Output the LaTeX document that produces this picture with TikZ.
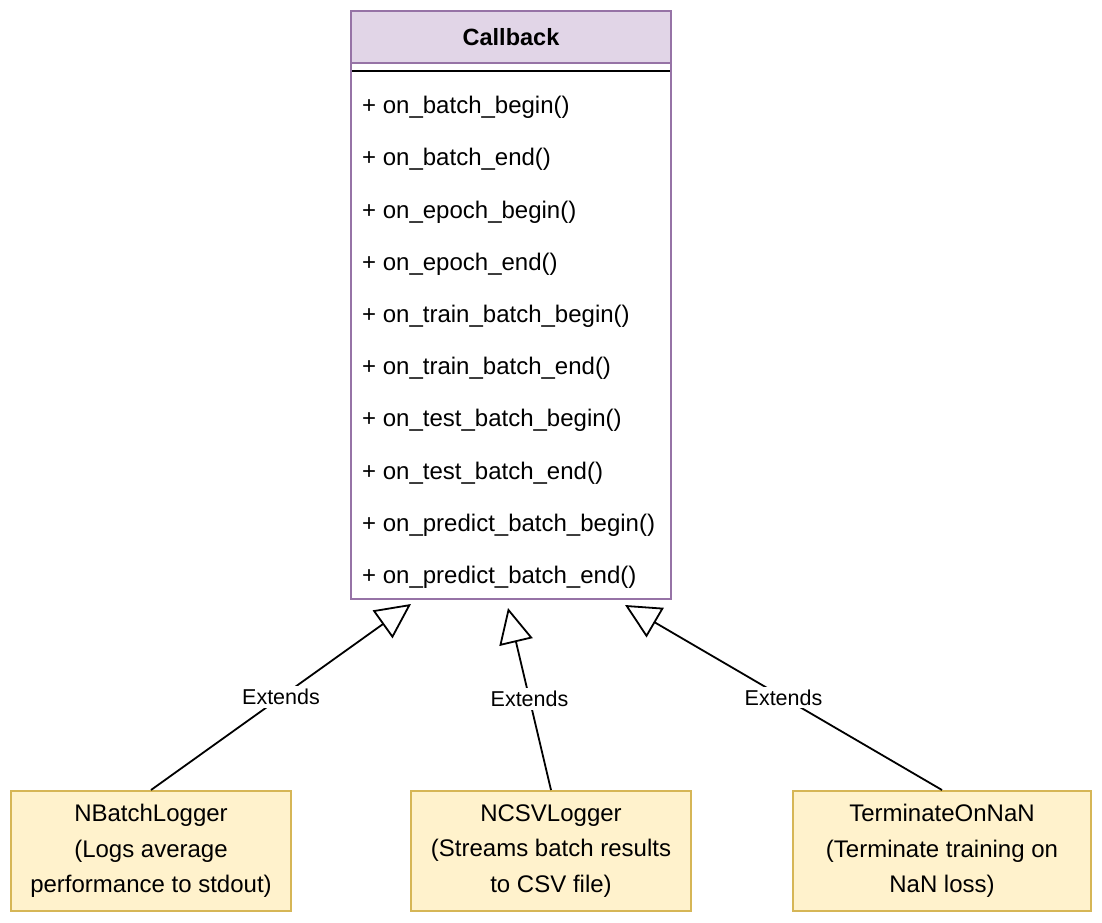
\documentclass[tikz,border=0pt]{standalone}
\usepackage{fontspec}
\setmainfont{Liberation Sans}
\usetikzlibrary{arrows.meta}
\definecolor{purpfill}{HTML}{E1D5E7}
\definecolor{purpline}{HTML}{9673A6}
\definecolor{yelfill}{HTML}{FFF2CC}
\definecolor{yelline}{HTML}{D6B656}
\begin{document}
\begin{tikzpicture}[x=1pt,y=-1pt,
  classbox/.style={draw=purpline,line width=2pt,fill=white,minimum width=320pt,minimum height=588pt,inner sep=0pt},
  header/.style={draw=purpline,line width=2pt,fill=purpfill,minimum width=320pt,minimum height=52pt,inner sep=0pt,font=\fontsize{23.5}{28}\selectfont\bfseries},
  method/.style={anchor=west,inner sep=0pt,font=\fontsize{24}{28}\selectfont},
  subbox/.style={draw=yelline,line width=2pt,fill=yelfill,minimum height=120pt,inner sep=0pt,align=center,font=\fontsize{24}{35.5}\selectfont},
  ext/.style={line width=1.8pt,-{Triangle[length=35pt,width=34pt,fill=white,line width=1.8pt]}},
  lbl/.style={fill=white,inner sep=3pt,font=\fontsize{21.5}{26}\selectfont}]
\useasboundingbox (0,0) rectangle (1102,922);
\node[classbox] (cb) at (511,305) {};
\node[header,anchor=north] (hd) at (cb.north) {Callback};
\coordinate (sl) at (352,71);
\coordinate (sr) at (670,71);
\draw[line width=2pt] (sl) -- (sr);
\foreach \m [count=\i] in {batch\_begin,batch\_end,epoch\_begin,epoch\_end,train\_batch\_begin,train\_batch\_end,test\_batch\_begin,test\_batch\_end,predict\_batch\_begin,predict\_batch\_end}
  \node[method] (m\i) at (362,{107.5+52.2*(\i-1)}) {+ on\_\m()};
\node[subbox,minimum width=280pt] (n1) at (151,851) {NBatchLogger\\(Logs average\\performance to stdout)};
\node[subbox,minimum width=280pt] (n2) at (551,851) {NCSVLogger\\(Streams batch results\\to CSV file)};
\node[subbox,minimum width=298pt] (n3) at (942,851) {TerminateOnNaN\\(Terminate training on\\NaN loss)};
\coordinate (t1) at (411,604);
\coordinate (t2) at (508,608);
\coordinate (t3) at (625,605);
\draw[ext] (n1.north) -- node[lbl] {Extends} (t1);
\draw[ext] (n2.north) -- node[lbl] {Extends} (t2);
\draw[ext] (n3.north) -- node[lbl] {Extends} (t3);
\end{tikzpicture}
\end{document}
